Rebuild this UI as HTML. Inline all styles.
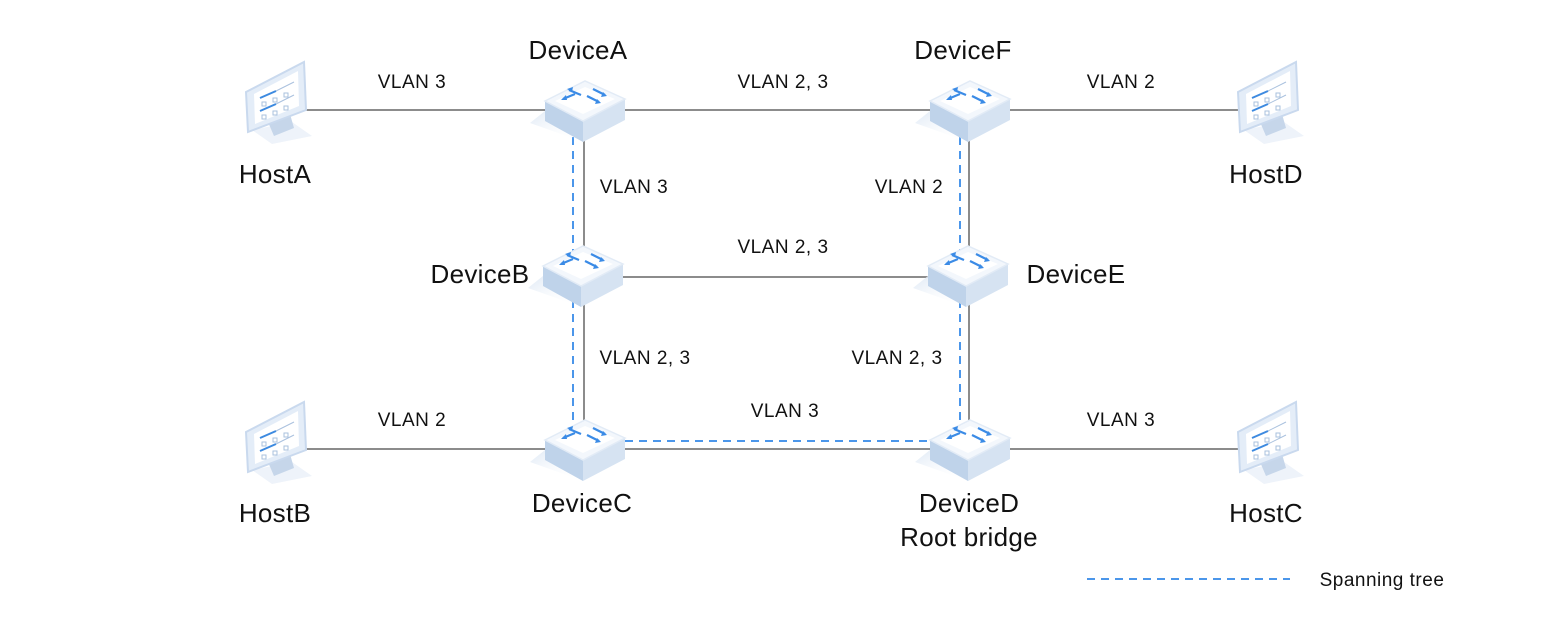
<!DOCTYPE html>
<html><head><meta charset="utf-8"><style>
html,body{margin:0;padding:0;background:#fff}
svg{display:block}
text{font-family:"Liberation Sans",sans-serif;fill:#111}
</style></head><body>
<svg width="1560" height="621" viewBox="0 0 1560 621" xmlns="http://www.w3.org/2000/svg">
<defs>
<linearGradient id="sh" x1="0" y1="0" x2="1" y2="1"><stop offset="0" stop-color="#dfe9f5"/><stop offset="1" stop-color="#fff" stop-opacity="0"/></linearGradient>
<g id="sw">
  <polygon points="-40,10 0,30 -10,38 -55,22" fill="url(#sh)"/>
  <polygon points="-40,0 -2,20 -2,41 -40,20" fill="#bfd3ea"/>
  <polygon points="-2,20 40,-2 40,19 -2,41" fill="#d6e3f2"/>
  <polygon points="-40,0 0,-20 40,-2 -2,20" fill="#f3f7fc" stroke="#e2ebf6" stroke-width="1.5"/>
  <polygon points="-30,0 0,-14 30,-2 -2,13" fill="#fff"/>
  <g stroke="#3b8be6" stroke-width="2.2" fill="#3b8be6">
    <line x1="-22" y1="-2" x2="-10" y2="-7"/><polygon points="-24,-1 -19,-6 -18,-1" stroke="none"/>
    <line x1="-16" y1="-11" x2="-4" y2="-6"/><polygon points="-18,-12 -12,-14 -13,-9" stroke="none"/>
    <line x1="2" y1="-5" x2="14" y2="1"/><polygon points="16,2 10,3 12,-2" stroke="none"/>
    <line x1="8" y1="-12" x2="20" y2="-6"/><polygon points="22,-5 16,-4 18,-9" stroke="none"/>
  </g>
</g>
<g id="host">
  <polygon points="2,68 42,60 62,74 22,82" fill="#eef3fa"/>
  <polygon points="18,60 40,52 44,66 24,74" fill="#c6d6ea"/>
  <polygon points="-4,30 54,0 56,48 -2,70" fill="#e4edf8" stroke="#c9d9ee" stroke-width="2"/>
  <polygon points="4,32 48,9 49,44 5,62" fill="#fff"/>
  <g stroke="#3d8ae0" stroke-width="2"><line x1="10" y1="36" x2="26" y2="29"/><line x1="10" y1="49" x2="26" y2="42"/></g>
  <g stroke="#a9c1de" stroke-width="1"><line x1="26" y1="29" x2="44" y2="20"/><line x1="26" y1="42" x2="44" y2="33"/>
  <rect x="12" y="40" width="4" height="4" fill="none"/><rect x="23" y="36" width="4" height="4" fill="none"/><rect x="34" y="31" width="4" height="4" fill="none"/>
  <rect x="12" y="53" width="4" height="4" fill="none"/><rect x="23" y="49" width="4" height="4" fill="none"/><rect x="34" y="44" width="4" height="4" fill="none"/></g>
</g>
</defs>
<g stroke="#8c8c8c" stroke-width="2" fill="none">
  <line x1="300" y1="110" x2="545" y2="110"/>
  <line x1="625" y1="110" x2="930" y2="110"/>
  <line x1="1010" y1="110" x2="1242" y2="110"/>
  <line x1="584" y1="140" x2="584" y2="255"/>
  <line x1="969" y1="140" x2="969" y2="255"/>
  <line x1="620" y1="277" x2="930" y2="277"/>
  <line x1="584" y1="300" x2="584" y2="425"/>
  <line x1="969" y1="300" x2="969" y2="425"/>
  <line x1="300" y1="449" x2="545" y2="449"/>
  <line x1="625" y1="449" x2="930" y2="449"/>
  <line x1="1010" y1="449" x2="1242" y2="449"/>
</g>
<g stroke="#4b96ea" stroke-width="2" fill="none" stroke-dasharray="8,6">
  <line x1="573" y1="137" x2="573" y2="255"/>
  <line x1="960" y1="137" x2="960" y2="255"/>
  <line x1="573" y1="300" x2="573" y2="425"/>
  <line x1="960" y1="300" x2="960" y2="425"/>
  <line x1="625" y1="441" x2="930" y2="441"/>
  <line x1="1087" y1="579" x2="1290" y2="579"/>
</g>
<use href="#sw" x="585" y="101"/>
<use href="#sw" x="970" y="101"/>
<use href="#sw" x="583" y="266"/>
<use href="#sw" x="968" y="266"/>
<use href="#sw" x="585" y="440"/>
<use href="#sw" x="970" y="440"/>
<use href="#host" x="250" y="62"/>
<use href="#host" x="1242" y="62"/>
<use href="#host" x="250" y="402"/>
<use href="#host" x="1242" y="402"/>
<g font-size="26" text-anchor="middle" letter-spacing="0.3">
  <text x="578" y="59">DeviceA</text>
  <text x="963" y="59">DeviceF</text>
  <text x="480" y="283">DeviceB</text>
  <text x="1076" y="283">DeviceE</text>
  <text x="582" y="512">DeviceC</text>
  <text x="969" y="512">DeviceD</text>
  <text x="969" y="546">Root bridge</text>
  <text x="275" y="183">HostA</text>
  <text x="1266" y="183">HostD</text>
  <text x="275" y="522">HostB</text>
  <text x="1266" y="522">HostC</text>
</g>
<g font-size="19" text-anchor="middle" letter-spacing="0.5">
  <text x="412" y="88">VLAN 3</text>
  <text x="783" y="88">VLAN 2, 3</text>
  <text x="1121" y="88">VLAN 2</text>
  <text x="634" y="193">VLAN 3</text>
  <text x="909" y="193">VLAN 2</text>
  <text x="783" y="253">VLAN 2, 3</text>
  <text x="645" y="364">VLAN 2, 3</text>
  <text x="897" y="364">VLAN 2, 3</text>
  <text x="412" y="426">VLAN 2</text>
  <text x="785" y="417">VLAN 3</text>
  <text x="1121" y="426">VLAN 3</text>
  <text x="1382" y="586">Spanning tree</text>
</g>
</svg>
</body></html>
